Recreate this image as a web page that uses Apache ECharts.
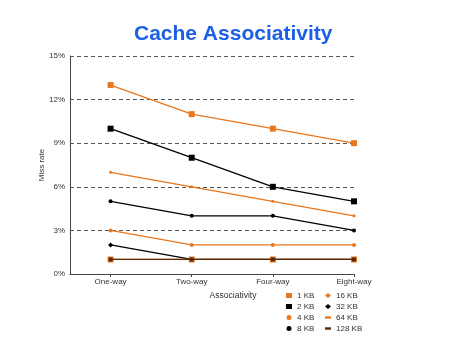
<!DOCTYPE html>
<html><head><meta charset="utf-8">
<script src="https://cdn.jsdelivr.net/npm/echarts@6/dist/echarts.min.js"></script>
<style>html,body{margin:0;padding:0;background:#fff}#c{width:474px;height:355px}</style>
</head><body><div id="c"></div>
<script>
const categories = ['One-way', 'Two-way', 'Four-way', 'Eight-way'];
const yTicks = [0, 3, 6, 9, 12, 15];
const kb1 = [13, 11, 10, 9];
const kb2 = [10, 8, 6, 5];
const kb4 = [7, 6, 5, 4];
const kb8 = [5, 4, 4, 3];
const kb16 = [3, 2, 2, 2];
const kb32 = [2, 1, 1, 1];
const kb64 = [1, 1, 1, 1];
const kb128 = [1, 1, 1, 1];

const OR = '#e8771e', BK = '#000000';
const F = 'Liberation Sans, Arial, sans-serif';
function mk(name, data, color, symbol, size, z) {
  return {
    name, type: 'line', data: data.map((v, i) => [i, v]),
    symbol, symbolSize: size, z: z || 2,
    lineStyle: { color, width: 1.3 }, itemStyle: { color },
    emphasis: { disabled: true }, animation: false
  };
}
const chart = echarts.init(document.getElementById('c'));
const legTxt = { fontFamily: F, fontSize: 8, color: '#333', lineHeight: 11 };
chart.setOption({
  animation: false,
  title: { text: 'Cache Associativity', left: 129, top: 19,
    textStyle: { fontFamily: F, fontWeight: 'bold', fontSize: 21, color: '#1a5fe6' } },
  grid: { left: 70, right: 120, top: 56, bottom: 81 },
  xAxis: {
    type: 'value', min: -0.5, max: 3,
    name: 'Associativity', nameLocation: 'middle', nameGap: 17, nameMoveOverlap: false,
    nameTextStyle: { fontFamily: F, fontSize: 8.5, color: '#333', padding: [0, 0, 0, 42] },
    axisLine: { show: true, onZero: false, lineStyle: { color: '#444', width: 1 } },
    axisTick: { show: true, customValues: [0, 1, 2, 3], length: 3, lineStyle: { color: '#444' } },
    axisLabel: { customValues: [0, 1, 2, 3], formatter: v => categories[Math.round(v)] || '',
      fontFamily: F, fontSize: 8, color: '#333', margin: 4 },
    splitLine: { show: false }
  },
  yAxis: {
    type: 'value', min: yTicks[0], max: yTicks[yTicks.length - 1], interval: 3,
    name: 'Miss rate', nameLocation: 'middle', nameGap: 24, nameMoveOverlap: false,
    nameTextStyle: { fontFamily: F, fontSize: 8, color: '#333' },
    axisLine: { show: true, onZero: false, lineStyle: { color: '#444', width: 1 } },
    axisTick: { show: false },
    axisLabel: { formatter: '{value}%', fontFamily: F, fontSize: 8, color: '#333', margin: 5 },
    splitLine: { show: true, lineStyle: { type: [4, 3], color: '#555', width: 1 } }
  },
  legend: [
    { orient: 'vertical', left: 286, top: 290, itemWidth: 6, itemHeight: 5, itemGap: 0,
      padding: 0, textStyle: legTxt,
      data: [
        { name: '1 KB', icon: 'rect' },
        { name: '2 KB', icon: 'rect' },
        { name: '4 KB', icon: 'circle' },
        { name: '8 KB', icon: 'circle' }
      ] },
    { orient: 'vertical', left: 325, top: 290, itemWidth: 6, itemHeight: 5, itemGap: 0,
      padding: 0, textStyle: legTxt,
      data: [
        { name: '16 KB', icon: 'diamond' },
        { name: '32 KB', icon: 'diamond' },
        { name: '64 KB', icon: 'path://M0,3 L10,3 L10,7 L0,7 Z' },
        { name: '128 KB', icon: 'path://M0,3 L10,3 L10,7 L0,7 Z' }
      ] }
  ],
  series: [
    mk('1 KB', kb1, OR, 'rect', 6),
    mk('2 KB', kb2, BK, 'rect', 6),
    mk('4 KB', kb4, OR, 'circle', 3),
    mk('8 KB', kb8, BK, 'circle', 4),
    mk('16 KB', kb16, OR, 'circle', 4),
    mk('32 KB', kb32, BK, 'diamond', 5),
    mk('64 KB', kb64, OR, 'rect', 6, 2),
    mk('128 KB', kb128, '#5a2a08', 'rect', 4, 3)
  ]
});
</script></body></html>
